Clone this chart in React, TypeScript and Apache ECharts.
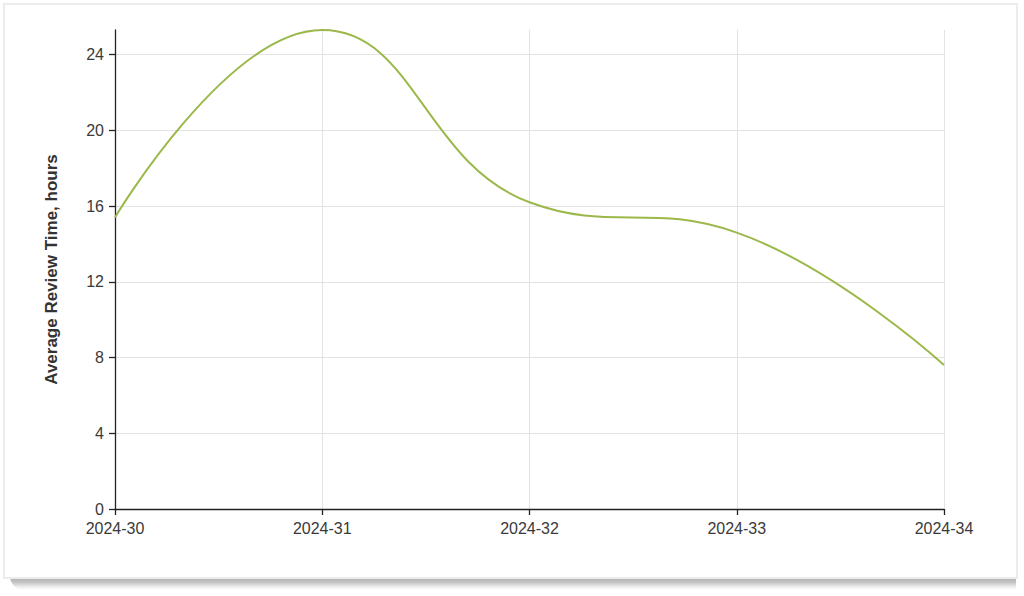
import React, { useEffect, useRef } from "react";
import * as echarts from "echarts";

const weeks = ["2024-30", "2024-31", "2024-32", "2024-33", "2024-34"];
const avgReviewHours = [15.4, 25.3, 16.2, 14.6, 7.6];
const yAxisTitle = "Average Review Time, hours";

const FONT = "'Liberation Sans', 'Helvetica Neue', Arial, sans-serif";

export default function App() {
  const ref = useRef<HTMLDivElement>(null);

  useEffect(() => {
    if (!ref.current) return;
    const chart = echarts.init(ref.current, undefined, { renderer: "svg" });
    chart.setOption({
      animation: false,
      backgroundColor: "transparent",
      textStyle: { fontFamily: FONT },
      grid: { left: 115, right: 80, top: 30, bottom: 87, containLabel: false },
      xAxis: {
        type: "category",
        data: weeks,
        boundaryGap: false,
        axisLine: { show: true, lineStyle: { color: "#222", width: 1.3 } },
        axisTick: { show: true, length: 6, alignWithLabel: true, lineStyle: { color: "#222", width: 1.3 } },
        axisLabel: { color: "#3a3a3a", fontSize: 16, margin: 11, fontFamily: FONT },
        splitLine: { show: true, lineStyle: { color: "#e3e3e3", width: 1 } },
      },
      yAxis: {
        type: "value",
        min: 0,
        max: "dataMax",
        interval: 4,
        name: yAxisTitle,
        nameLocation: "middle",
        nameGap: 55,
        nameTextStyle: { color: "#333", fontSize: 17, fontWeight: "bold", fontFamily: FONT },
        axisLine: { show: true, lineStyle: { color: "#222", width: 1.3 } },
        axisTick: { show: true, length: 6, lineStyle: { color: "#222", width: 1.3 } },
        axisLabel: { color: "#3a3a3a", fontSize: 16, margin: 11, showMaxLabel: false, fontFamily: FONT },
        splitLine: { show: true, showMaxLine: false, lineStyle: { color: "#e3e3e3", width: 1 } },
      },
      series: [
        {
          type: "line",
          data: avgReviewHours,
          smooth: 0.45,
          symbol: "none",
          lineStyle: { color: "#9bb84a", width: 2 },
        },
      ],
    });
    return () => chart.dispose();
  }, []);

  return (
    <div style={{ position: "fixed", left: 0, top: 0, width: 1024, height: 596, background: "#fff", overflow: "hidden" }}>
      <div
        style={{
          position: "absolute",
          left: 10,
          top: 576,
          width: 1006,
          height: 14,
          background: "linear-gradient(to bottom, #a9a9a9 0%, #c4c4c4 45%, rgba(230,230,230,0.6) 80%, rgba(255,255,255,0) 100%)",
          borderRadius: "0 0 4px 40px",
        }}
      />
      <div
        style={{
          position: "absolute",
          left: 3,
          top: 3,
          width: 1011,
          height: 572,
          background: "#fff",
          border: "2px solid #ececec",
        }}
      />
      <div ref={ref} style={{ position: "absolute", left: 0, top: 0, width: 1024, height: 596 }} />
    </div>
  );
}
